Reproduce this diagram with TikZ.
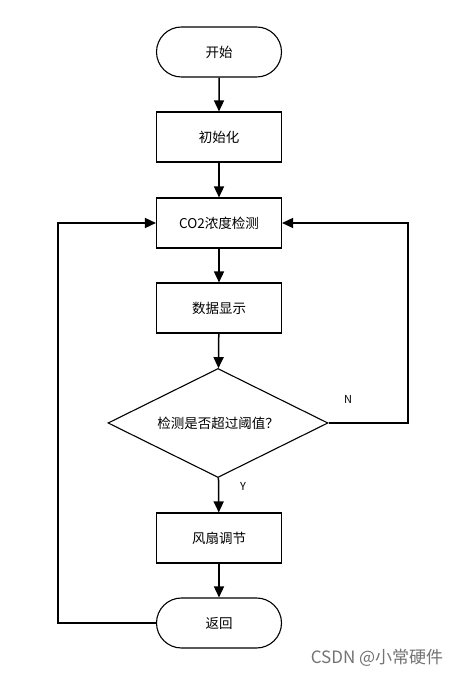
\documentclass[tikz,border=0pt]{standalone}
\usepackage{fontspec}
\setmainfont{Noto Sans CJK SC}
\usetikzlibrary{arrows.meta,shapes.geometric,shapes.misc}
\begin{document}
\begin{tikzpicture}[x=1pt,y=1pt,
  base/.style={draw=black,line width=1.1pt,fill=white,minimum width=125pt,minimum height=50pt,inner sep=0pt,font=\fontsize{13.5}{15}\selectfont},
  procbox/.style={base,rectangle},
  termbox/.style={base,rounded rectangle},
  decbox/.style={draw=black,line width=1.1pt,fill=white,diamond,aspect=2,minimum width=220pt,minimum height=109pt,inner sep=0pt,font=\fontsize{13.5}{15}\selectfont},
  flow/.style={line width=1.5pt,-{Triangle[length=11pt,width=10pt]}},
  lab/.style={font=\fontsize{11}{13}\selectfont}
]
\useasboundingbox (0,0) rectangle (461,677);
\fill[white] (0,0) rectangle (461,677);
\node[termbox] (start) at (219,625) {开始};
\node[procbox] (init) at (219,540) {初始化};
\node[procbox] (co2) at (219,454) {CO2浓度检测};
\node[procbox] (disp) at (219,369) {数据显示};
\node[decbox] (dec) at (218,254) {检测是否超过阈值？};
\node[procbox] (fan) at (219,139) {风扇调节};
\node[termbox] (ret) at (219,54) {返回};
\coordinate (nr) at (408,254);
\coordinate (nt) at (408,454);
\coordinate (lb) at (58,54);
\coordinate (lt) at (58,454);
\draw[flow] (start) -- (init);
\draw[flow] (init) -- (co2);
\draw[flow] (co2) -- (disp);
\draw[flow] (disp) -- (dec);
\draw[flow] (dec) -- (fan);
\draw[flow] (fan) -- (ret);
\draw[flow] (dec.east) -- (nr) -- (nt) -- (co2.east);
\draw[flow] (ret.west) -- (lb) -- (lt) -- (co2.west);
\node[lab] (nlab) at (348,278) {N};
\node[lab] (ylab) at (243,191) {Y};
\node[font=\fontsize{17}{19}\selectfont,text=black!55] (wm) at (377,19) {CSDN @小常硬件};
\end{tikzpicture}
\end{document}
